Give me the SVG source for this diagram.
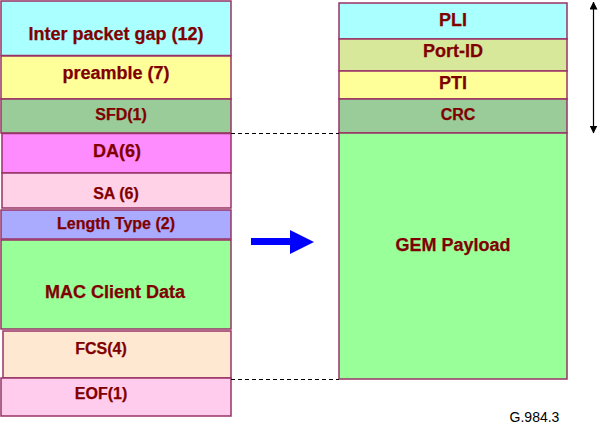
<svg xmlns="http://www.w3.org/2000/svg" width="599" height="431" viewBox="0 0 599 431">
<style>
.b{stroke:#993366;stroke-width:1.5}
.t{font-family:"Liberation Sans",Arial,sans-serif;font-weight:bold;fill:#800000;text-anchor:middle;stroke:#800000;stroke-width:0.25}
.l{font-size:18px}
.s{font-size:16px}
.d{stroke:#000;stroke-width:1;stroke-dasharray:4 3;fill:none}
</style>
<defs>
<marker id="ah" viewBox="0 0 8 8" refX="7.5" refY="4" markerWidth="8" markerHeight="8" markerUnits="userSpaceOnUse" orient="auto-start-reverse">
<path d="M0,0 L8,4 L0,8 z" fill="#000"/>
</marker>
</defs>
<rect width="599" height="431" fill="#fff"/>
<g id="ipg"><rect class="b" x="1" y="1" width="230" height="54.5" fill="#AAFFFF"/><text class="t l" x="116" y="40">Inter packet gap (12)</text></g>
<g id="preamble"><rect class="b" x="1" y="56" width="230" height="43" fill="#FFFF99"/><text class="t l" x="116" y="79">preamble (7)</text></g>
<g id="sfd"><rect class="b" x="1" y="99" width="230" height="34" fill="#99CC99"/><text class="t s" x="121" y="120">SFD(1)</text></g>
<g id="da"><rect class="b" x="2" y="133.5" width="229" height="39.5" fill="#FF8CFF"/><text class="t l" x="117" y="157">DA(6)</text></g>
<g id="sa"><rect class="b" x="2" y="173" width="229" height="35" fill="#FFD2E8"/><text class="t s" x="116" y="199">SA (6)</text></g>
<g id="lt"><rect class="b" x="1" y="210" width="230" height="29" fill="#AAAAFF"/><text class="t" style="font-size:16px" x="116" y="229">Length Type (2)</text></g>
<g id="mac"><rect class="b" x="1" y="240" width="230" height="89" fill="#99FF99"/><text class="t l" x="115" y="298">MAC Client Data</text></g>
<g id="fcs"><rect class="b" x="3" y="331" width="228" height="47" fill="#FFE8D2"/><text class="t s" x="101" y="354">FCS(4)</text></g>
<g id="eof"><rect class="b" x="1" y="378" width="230" height="38" fill="#FFCCEE"/><text class="t s" x="101" y="399">EOF(1)</text></g>
<g id="pli"><rect class="b" x="339" y="3" width="228" height="36" fill="#AAFFFF"/><text class="t l" x="453" y="26">PLI</text></g>
<g id="portid"><rect class="b" x="339" y="39" width="228" height="32" fill="#D8E89A"/><text class="t l" x="453" y="57">Port-ID</text></g>
<g id="pti"><rect class="b" x="339" y="71" width="228" height="28" fill="#FFFF99"/><text class="t l" x="453" y="89">PTI</text></g>
<g id="crc"><rect class="b" x="339" y="99" width="228" height="34" fill="#99CC99"/><text class="t s" x="458" y="120">CRC</text></g>
<g id="gem"><rect class="b" x="339" y="133" width="228" height="246" fill="#99FF99"/><text class="t l" x="453" y="251">GEM Payload</text></g>
<g id="connectors">
<line class="d" x1="231" y1="133.5" x2="339" y2="133.5"/>
<line class="d" x1="231" y1="379.5" x2="339" y2="379.5"/>
<line x1="593.5" y1="2" x2="593.5" y2="133" stroke="#000" stroke-width="1.2" marker-start="url(#ah)" marker-end="url(#ah)"/>
<polygon points="251,238 290,238 290,230 314,242 290,254 290,245 251,245" fill="#0000FF"/>
</g>
<text x="534.5" y="422" style="font-family:'Liberation Sans',Arial,sans-serif;font-size:14px;fill:#000;text-anchor:middle">G.984.3</text>
</svg>
